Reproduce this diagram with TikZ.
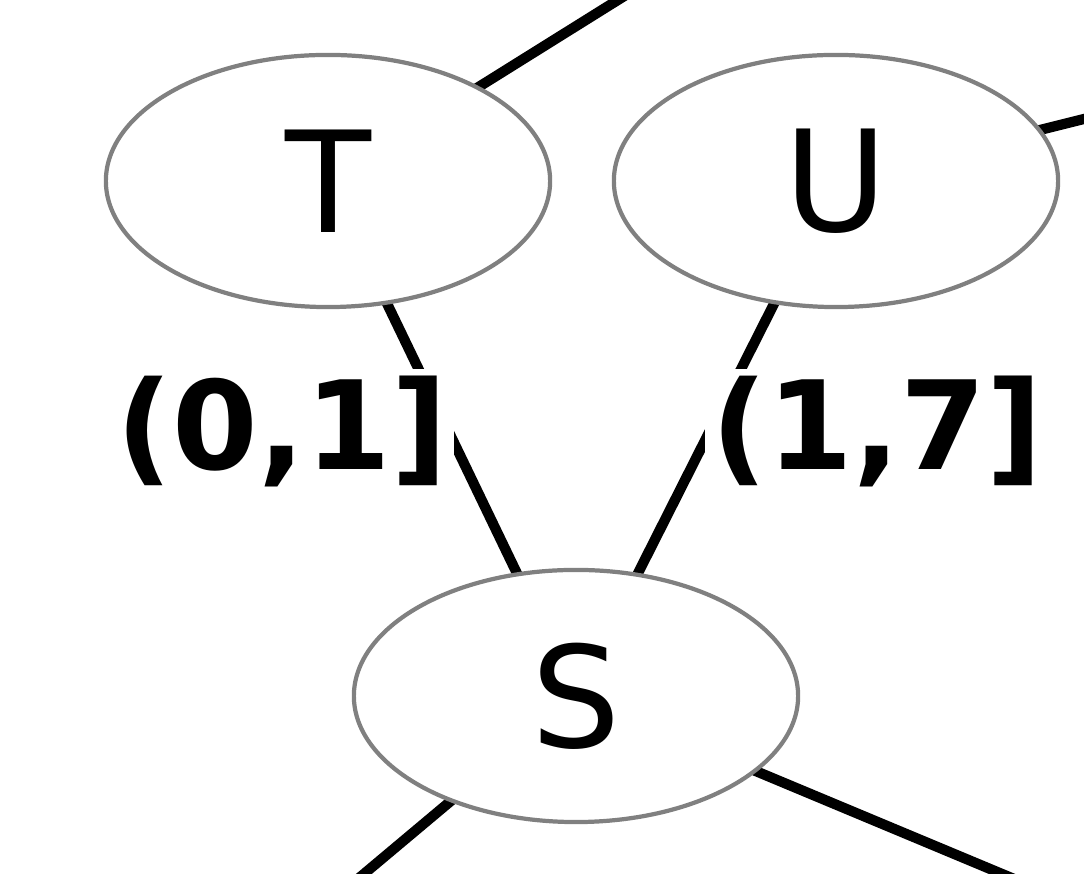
\documentclass[tikz,border=0pt]{standalone}
\usepackage{fontspec}
\setmainfont{DejaVu Sans}
\usetikzlibrary{shapes.geometric}
\begin{document}
\begin{tikzpicture}[x=0.01cm,y=-0.01cm,
  vert/.style={ellipse,draw=gray,line width=1.2pt,fill=white,minimum width=4.44cm,minimum height=2.52cm,inner sep=0pt,font=\fontsize{40}{40}\selectfont},
  edge/.style={line width=2.9pt},
  lab/.style={fill=white,inner sep=2pt,font=\fontsize{35}{35}\selectfont\bfseries}]
\useasboundingbox (0,0) rectangle (1084,874);
\clip (0,0) rectangle (1084,874);
\coordinate (a) at (650,-20);
\coordinate (b) at (1120,110);
\coordinate (c) at (340,894);
\coordinate (d) at (1050,894);
\draw[edge] (328,181) -- (a);
\draw[edge] (836,181) -- (b);
\draw[edge] (576,696) -- (c);
\draw[edge] (576,696) -- (d);
\draw[edge] (328,181) -- (576,696);
\draw[edge] (836,181) -- (576,696);
\node[lab] (l1) at (282,432) {(0,1]};
\node[lab] (l2) at (877,432) {(1,7]};
\node[vert] (T) at (328,181) {T};
\node[vert] (U) at (836,181) {U};
\node[vert] (S) at (576,696) {S};
\end{tikzpicture}
\end{document}
